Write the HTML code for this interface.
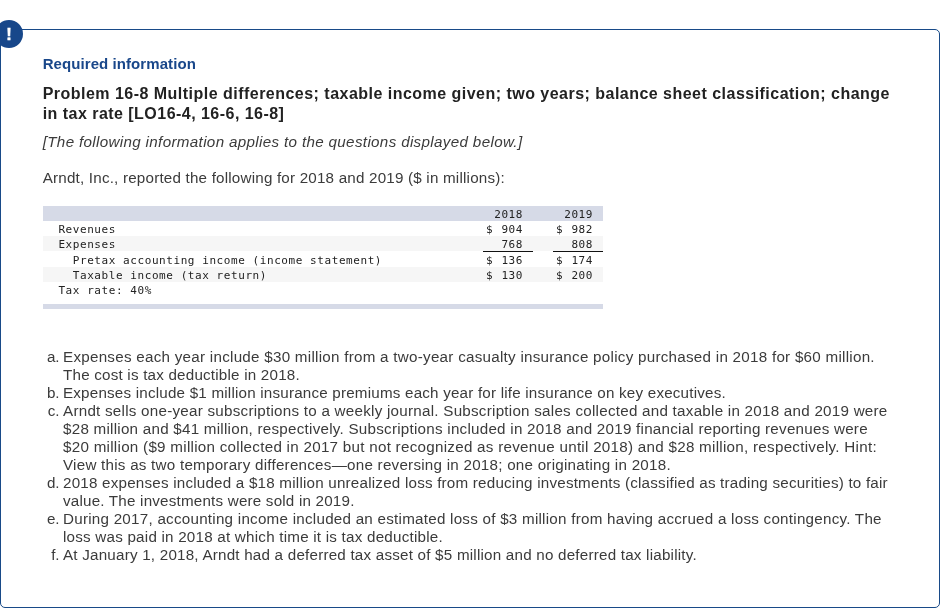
<!DOCTYPE html>
<html lang="en"><head><meta charset="utf-8"><title>Required information</title>
<style>
html,body{margin:0;padding:0;background:#fff;}
body{width:945px;height:615px;position:relative;overflow:hidden;font-family:'Liberation Sans', sans-serif;}
.box{position:absolute;left:0;top:29px;width:938px;height:577px;border:1px solid #184a88;border-radius:0 5px 5px 5px;box-sizing:content-box;}
.badge{position:absolute;left:-5px;top:20px;width:28px;height:28px;border-radius:50%;background:#17478a;color:#fff;font:bold 16.5px 'Liberation Sans', sans-serif;-webkit-text-stroke:0.55px #fff;text-align:center;line-height:28px;}
.ln{position:absolute;white-space:pre;line-height:20px;height:20px;}
.mk{text-align:right;}
.tbl{position:absolute;left:43px;top:206px;width:560px;font:11px/18px 'DejaVu Sans Mono', 'Liberation Mono', monospace;letter-spacing:0.57px;color:#222;}
.row{position:relative;height:15px;white-space:pre;}
.row.hd{background:#d6dae7;}
.row.alt{background:#f6f6f6;}
.lab{position:absolute;left:1px;top:0;}
.c1,.c2{position:absolute;top:0;width:50px;height:15px;box-sizing:border-box;text-align:right;padding-right:10px;}
.c1{left:440px;} .c2{left:510px;}
.row.tot{height:16px;}
.row.tot span{top:1px;}
.ul::before{content:'';position:absolute;left:0;top:-1px;width:50px;height:1px;background:#111;}
.d{font-style:normal;position:relative;left:-1px;}
.ft{position:absolute;left:0;top:98px;width:560px;height:5px;background:#d6dae7;}
</style></head><body>
<div class="box"></div>
<div class="badge">!</div>
<div class="ln" style="left:42.7px;top:53.8px;font-size:15px;font-weight:bold;color:#19478a;letter-spacing:0.076px">Required information</div>
<div class="ln" style="left:42.7px;top:83.5px;font-size:16px;font-weight:bold;color:#222;letter-spacing:0.477px">Problem 16-8 Multiple differences; taxable income given; two years; balance sheet classification; change</div>
<div class="ln" style="left:42.7px;top:103.5px;font-size:16px;font-weight:bold;color:#222;letter-spacing:0.467px">in tax rate [LO16-4, 16-6, 16-8]</div>
<div class="ln" style="left:42.7px;top:131.7px;font-size:15.2px;font-style:italic;color:#3b3b3b;letter-spacing:0.334px">[The following information applies to the questions displayed below.]</div>
<div class="ln" style="left:42.7px;top:167.7px;font-size:15.2px;color:#3b3b3b;letter-spacing:0.199px">Arndt, Inc., reported the following for 2018 and 2019 ($ in millions):</div>
<div class="ln" style="left:63.0px;top:346.7px;font-size:15.2px;color:#3b3b3b;letter-spacing:0.262px">Expenses each year include $30 million from a two-year casualty insurance policy purchased in 2018 for $60 million.</div>
<div class="ln" style="left:63.0px;top:364.7px;font-size:15.2px;color:#3b3b3b;letter-spacing:0.207px">The cost is tax deductible in 2018.</div>
<div class="ln" style="left:63.0px;top:382.7px;font-size:15.2px;color:#3b3b3b;letter-spacing:0.200px">Expenses include $1 million insurance premiums each year for life insurance on key executives.</div>
<div class="ln" style="left:63.0px;top:400.7px;font-size:15.2px;color:#3b3b3b;letter-spacing:0.248px">Arndt sells one-year subscriptions to a weekly journal. Subscription sales collected and taxable in 2018 and 2019 were</div>
<div class="ln" style="left:63.0px;top:418.7px;font-size:15.2px;color:#3b3b3b;letter-spacing:0.245px">$28 million and $41 million, respectively. Subscriptions included in 2018 and 2019 financial reporting revenues were</div>
<div class="ln" style="left:63.0px;top:436.7px;font-size:15.2px;color:#3b3b3b;letter-spacing:0.270px">$20 million ($9 million collected in 2017 but not recognized as revenue until 2018) and $28 million, respectively. Hint:</div>
<div class="ln" style="left:63.0px;top:454.7px;font-size:15.2px;color:#3b3b3b;letter-spacing:0.242px">View this as two temporary differences—one reversing in 2018; one originating in 2018.</div>
<div class="ln" style="left:63.0px;top:472.7px;font-size:15.2px;color:#3b3b3b;letter-spacing:0.210px">2018 expenses included a $18 million unrealized loss from reducing investments (classified as trading securities) to fair</div>
<div class="ln" style="left:63.0px;top:490.7px;font-size:15.2px;color:#3b3b3b;letter-spacing:0.200px">value. The investments were sold in 2019.</div>
<div class="ln" style="left:63.0px;top:508.7px;font-size:15.2px;color:#3b3b3b;letter-spacing:0.246px">During 2017, accounting income included an estimated loss of $3 million from having accrued a loss contingency. The</div>
<div class="ln" style="left:63.0px;top:526.7px;font-size:15.2px;color:#3b3b3b;letter-spacing:0.222px">loss was paid in 2018 at which time it is tax deductible.</div>
<div class="ln" style="left:63.0px;top:544.7px;font-size:15.2px;color:#3b3b3b;letter-spacing:0.215px">At January 1, 2018, Arndt had a deferred tax asset of $5 million and no deferred tax liability.</div>
<div class="ln mk" style="left:29.6px;top:346.7px;font-size:15.2px;width:30px;color:#3b3b3b;">a.</div>
<div class="ln mk" style="left:29.6px;top:382.7px;font-size:15.2px;width:30px;color:#3b3b3b;">b.</div>
<div class="ln mk" style="left:29.6px;top:400.7px;font-size:15.2px;width:30px;color:#3b3b3b;">c.</div>
<div class="ln mk" style="left:29.6px;top:472.7px;font-size:15.2px;width:30px;color:#3b3b3b;">d.</div>
<div class="ln mk" style="left:29.6px;top:508.7px;font-size:15.2px;width:30px;color:#3b3b3b;">e.</div>
<div class="ln mk" style="left:29.6px;top:544.7px;font-size:15.2px;width:30px;color:#3b3b3b;">f.</div>
<div class="tbl">
<div class="row hd"><span class="lab"></span><span class="c1">2018</span><span class="c2">2019</span></div>
<div class="row"><span class="lab">  Revenues</span><span class="c1"><i class="d">$</i> 904</span><span class="c2"><i class="d">$</i> 982</span></div>
<div class="row alt"><span class="lab">  Expenses</span><span class="c1">768</span><span class="c2">808</span></div>
<div class="row tot"><span class="lab">    Pretax accounting income (income statement)</span><span class="c1 ul"><i class="d">$</i> 136</span><span class="c2 ul"><i class="d">$</i> 174</span></div>
<div class="row alt"><span class="lab">    Taxable income (tax return)</span><span class="c1"><i class="d">$</i> 130</span><span class="c2"><i class="d">$</i> 200</span></div>
<div class="row"><span class="lab">  Tax rate: 40%</span><span class="c1"></span><span class="c2"></span></div>
<div class="ft"></div>
</div>
</body></html>
